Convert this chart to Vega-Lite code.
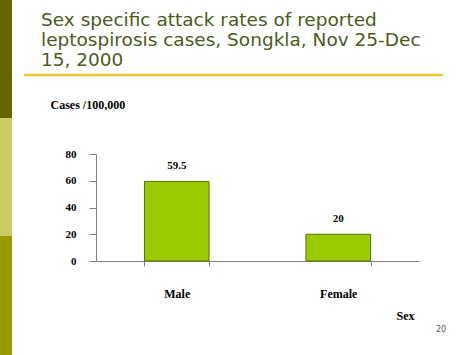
{
  "$schema": "https://vega.github.io/schema/vega-lite/v6.json",
  "width": 323,
  "height": 107,
  "autosize": {"type": "none"},
  "padding": {"left": 96, "top": 154, "right": 55, "bottom": 94},
  "background": "white",
  "config": {"view": {"stroke": null}},
  "title": {
    "text": ["Sex specific attack rates of reported", "leptospirosis cases, Songkla, Nov 25-Dec", "15, 2000"],
    "anchor": "start",
    "frame": "group",
    "font": "DejaVu Sans",
    "fontSize": 18.5,
    "fontWeight": "normal",
    "color": "#4d5a1a",
    "lineHeight": 20,
    "dx": -55,
    "offset": -69
  },
  "data": {"values": [
    {"sex": "Male", "rate": 59.5},
    {"sex": "Female", "rate": 20}
  ]},
  "encoding": {
    "x": {
      "field": "sex", "type": "nominal", "sort": ["Male", "Female"],
      "scale": {"paddingInner": 0.6, "paddingOuter": 0.3},
      "axis": {
        "tickBand": "extent", "domainColor": "#808080", "tickColor": "#808080", "tickSize": 5,
        "labelPadding": 22, "labelFont": "Liberation Serif", "labelFontWeight": "bold", "labelFontSize": 12,
        "labelColor": "black", "labelAngle": 0,
        "title": "Sex", "titleX": 300, "titleY": 58, "titleAlign": "left", "titleBaseline": "alphabetic",
        "titleFont": "Liberation Serif", "titleFontWeight": "bold", "titleFontSize": 12, "titleColor": "black"
      }
    },
    "y": {
      "field": "rate", "type": "quantitative",
      "scale": {"domain": [0, 80]},
      "axis": {
        "values": [0, 20, 40, 60, 80], "grid": false, "tickSize": 7, "labelPadding": 13, "labelOverlap": false,
        "domainColor": "#808080", "tickColor": "#808080",
        "labelFont": "Liberation Serif", "labelFontWeight": "bold", "labelFontSize": 11, "labelColor": "black",
        "title": "Cases /100,000", "titleAngle": 0, "titleX": -46, "titleY": -46, "titleAlign": "left",
        "titleBaseline": "alphabetic", "titleFont": "Liberation Serif", "titleFontWeight": "bold",
        "titleFontSize": 12, "titleColor": "black"
      }
    }
  },
  "layer": [
    {
      "mark": {"type": "bar", "fill": "#99cc00", "stroke": "#5a7000", "strokeWidth": 1}
    },
    {
      "mark": {"type": "text", "baseline": "bottom", "dy": -10, "font": "Liberation Serif", "fontWeight": "bold", "fontSize": 11, "color": "black"},
      "encoding": {
        "text": {"field": "rate", "type": "quantitative"}
      }
    },
    {
      "data": {"values": [{}]},
      "mark": {"type": "rect", "fill": "#666600"},
      "encoding": {"x": {"value": -96}, "x2": {"value": -84}, "y": {"value": -154}, "y2": {"value": -36}}
    },
    {
      "data": {"values": [{}]},
      "mark": {"type": "rect", "fill": "#cccc66"},
      "encoding": {"x": {"value": -96}, "x2": {"value": -84}, "y": {"value": -36}, "y2": {"value": 82}}
    },
    {
      "data": {"values": [{}]},
      "mark": {"type": "rect", "fill": "#999900"},
      "encoding": {"x": {"value": -96}, "x2": {"value": -84}, "y": {"value": 82}, "y2": {"value": 201}}
    },
    {
      "data": {"values": [{}]},
      "mark": {"type": "rule", "stroke": "#f0c830", "strokeWidth": 2.5},
      "encoding": {"x": {"value": -72}, "x2": {"value": 347}, "y": {"value": -79}}
    },
    {
      "data": {"values": [{"page": "20"}]},
      "mark": {"type": "text", "font": "DejaVu Sans", "fontSize": 8, "color": "#555555"},
      "encoding": {"x": {"value": 345}, "y": {"value": 176}, "text": {"field": "page"}}
    }
  ]
}
